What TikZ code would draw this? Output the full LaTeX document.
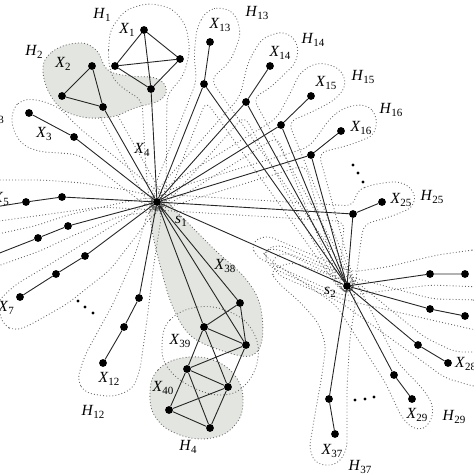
\documentclass[tikz,border=0pt]{standalone}
\usepackage{fontspec}
\setmainfont{Liberation Serif}
\definecolor{hullgray}{RGB}{226,229,224}
\newcommand\lab[2]{\textit{#1}\raisebox{-0.45ex}{\fontsize{11}{11}\selectfont #2}}
\begin{document}
\begin{tikzpicture}[x=1pt,y=-1pt,
  vtx/.style={circle,fill=black,inner sep=0pt,minimum size=7.8pt},
  sdot/.style={circle,fill=black,inner sep=0pt,minimum size=3.2pt},
  lnk/.style={line width=0.9pt,draw=black!85},
  hulls/.style={draw=black!60,line width=0.85pt,dash pattern=on 0.9pt off 2.2pt,rounded corners=8pt},
  blob/.style={draw=black!60,line width=0.85pt,dash pattern=on 0.9pt off 2.2pt},
  lbl/.style={inner sep=0pt,font=\fontsize{15.5}{17}\selectfont}]
\useasboundingbox (0,0) rectangle (474,474);
\clip (0,0) rectangle (474,474);

% ---------- shaded regions ----------
\draw[blob,fill=hullgray] plot[smooth cycle,tension=0.7] coordinates {(43,72) (52,52) (78,43) (96,50) (108,70) (130,76) (155,78) (166,88) (160,100) (135,108) (110,117) (78,116) (55,102)};
\draw[blob,fill=hullgray] plot[smooth cycle,tension=0.6] coordinates {(150,205) (152,230) (160,265) (172,305) (190,335) (220,350) (250,356) (262,340) (260,305) (245,278) (215,250) (180,215) (162,198)};
\draw[blob,fill=hullgray] plot[smooth cycle,tension=0.7] coordinates {(150,392) (158,370) (182,358) (213,360) (236,377) (243,402) (235,425) (212,438) (180,435) (156,418)};
\draw[blob] plot[smooth cycle,tension=0.7] coordinates {(162,345) (170,320) (198,307) (230,312) (252,330) (258,358) (245,385) (222,395) (192,387) (168,368)};

% ---------- dotted hulls ----------
% H1
\draw[hulls] (108,58)--(110,30)--(125,10)--(148,3)--(172,8)--(186,25)--(190,50)--(184,75)--(167,95)--(166,200)--(160,212)--(150,208)--(146,170)--(142,100)--(125,90)--(112,78)--cycle;
% H2 tail
\draw[hulls] (100,117)--(150,206)--(158,211)--(164,198)--(118,116);
% H3
\draw[hulls] (12,110)--(22,99)--(40,100)--(60,108)--(78,127)--(162,195)--(162,208)--(152,210)--(80,155)--(62,153)--(40,152)--(22,145)--(12,128)--cycle;
% H5, H6, H7
\draw[hulls] (-30,180)--(43,180)--(83,183)--(127,190)--(152,196)--(165,203)--(157,210)--(100,207)--(50,214)--(-30,225)--cycle;
\draw[hulls] (-30,240)--(35,226)--(68,215)--(120,203)--(152,197)--(165,204)--(156,211)--(120,216)--(72,236)--(40,251)--(-30,276)--cycle;
\draw[hulls] (152,200)--(120,221)--(83,244)--(52,263)--(15,285)--(-3,302)--(3,325)--(15,331)--(30,325)--(67,304)--(110,270)--(150,218)--(162,208)--cycle;
% H12
\draw[hulls] (148,212)--(135,255)--(113,304)--(85,355)--(77,380)--(85,393)--(113,397)--(133,389)--(140,370)--(147,320)--(153,270)--(162,212)--(156,206)--cycle;
% H13 .. H16, H25
\draw[hulls] (197,27)--(207,10)--(222,7)--(236,14)--(241,35)--(230,62)--(210.5,79.4)--(353.5,281.4)--(351.6,292.5)--(340.5,290.6)--(206,101)--(164.4,205)--(154,209.4)--(149.6,199)--(196.6,81)--(194,55)--cycle;
\draw[hulls] (248,62)--(262,38)--(284,31)--(298,42)--(297,62)--(270,88)--(253,98)--(354,282)--(350.8,293)--(340,289.8)--(244.4,115.8)--(163,207.3)--(151.7,208)--(151,196.7)--(240,96.7)--cycle;
\draw[hulls] (300,72)--(318,62)--(340,68)--(347,85)--(335,100)--(312,112)--(288.4,122)--(354.4,283)--(350,293.4)--(339.6,289)--(277.2,136.8)--(161.2,208.8)--(150.2,206.2)--(152.8,195.2)--(276.8,118.2)--(292,90)--cycle;
\draw[hulls] (330,118)--(345,107)--(366,104)--(377,115)--(375,135)--(350,145)--(318.7,152.9)--(354.7,283.9)--(349.1,293.7)--(339.3,288.1)--(305.4,165)--(159.3,209.7)--(149.3,204.3)--(154.7,194.3)--(308.7,147.3)--(322,130)--cycle;
\draw[hulls] (357,190)--(375,184)--(400,181)--(415,191)--(414,207)--(390,217)--(364,224)--(361,240)--(355,286.7)--(346.3,294)--(339,285.3)--(344.4,221.5)--(156.5,210)--(149,201.5)--(157.5,194)--(353.5,206)--cycle;
% H26 .. H29, H37
\draw[hulls] (480,249)--(437,255)--(387,267)--(352,272)--(266,235)--(251,243)--(256,257)--(343,296)--(431,285)--(480,287)--cycle;
\draw[hulls] (480,300)--(433,299)--(351,277)--(278,244)--(264,251)--(268,266)--(341,299)--(427,319)--(480,331)--cycle;
\draw[hulls] (480,352)--(455,352)--(424,337)--(353,279)--(285,252)--(271,259)--(276,274)--(340,302)--(411,353)--(445,378)--(480,388)--cycle;
\draw[hulls] (356,281)--(397,362)--(424,390)--(434,407)--(430,425)--(417,431)--(403,420)--(385,382)--(336,305)--(297,278)--(268,259)--(262,251)--(276,248)--(348,283)--cycle;
\draw[hulls] (292,262)--(350,282)--(356,300)--(350,337)--(347,387)--(347,450)--(337,465)--(317,465)--(309,450)--(314,420)--(322,375)--(326,345)--(318,322)--(300,302)--(276,281)--(270,270)--cycle;

% ---------- vertices ----------
\node[vtx] (s1) at (157,202) {};
\node[vtx] (s2) at (347,286) {};
\node[vtx] (a1) at (144,30) {};
\node[vtx] (a2) at (115,66) {};
\node[vtx] (a3) at (180,59) {};
\node[vtx] (a4) at (151,89) {};
\node[vtx] (b1) at (92,66) {};
\node[vtx] (b2) at (62,96) {};
\node[vtx] (b3) at (103,107) {};
\node[vtx] (c1) at (29,113) {};
\node[vtx] (c2) at (74,137) {};
\node[vtx] (d1) at (62,197) {};
\node[vtx] (d2) at (26,202) {};
\node[vtx] (d3) at (-12,208) {};
\node[vtx] (e1) at (68,226) {};
\node[vtx] (e2) at (38,238) {};
\node[vtx] (e3) at (-8,256) {};
\node[vtx] (f1) at (85,256) {};
\node[vtx] (f2) at (56,274) {};
\node[vtx] (f3) at (20,297) {};
\node[vtx] (g1) at (139,298) {};
\node[vtx] (g2) at (124,327) {};
\node[vtx] (g3) at (103,363) {};
\node[vtx] (k1) at (240,303) {};
\node[vtx] (k2) at (204,327) {};
\node[vtx] (k3) at (246,345) {};
\node[vtx] (k4) at (187,369) {};
\node[vtx] (k5) at (228,387) {};
\node[vtx] (k6) at (169,410) {};
\node[vtx] (k7) at (210,428) {};
\node[vtx] (p13) at (204,84) {};
\node[vtx] (q13) at (210,42) {};
\node[vtx] (p14) at (246,102) {};
\node[vtx] (q14) at (270,66) {};
\node[vtx] (p15) at (281,125) {};
\node[vtx] (q15) at (311,96) {};
\node[vtx] (p16) at (311,155) {};
\node[vtx] (q16) at (341,131) {};
\node[vtx] (p25) at (353,214) {};
\node[vtx] (q25) at (382,202) {};
\node[vtx] (r1) at (430,274) {};
\node[vtx] (t1) at (465,274) {};
\node[vtx] (r2) at (430,309) {};
\node[vtx] (t2) at (465,316) {};
\node[vtx] (r3) at (418,345) {};
\node[vtx] (t3) at (448,363) {};
\node[vtx] (r4) at (394,375) {};
\node[vtx] (t4) at (412,399) {};
\node[vtx] (r5) at (329,399) {};
\node[vtx] (t5) at (335,434) {};

% ---------- edges ----------
\draw[lnk] (a1)--(a2) (a1)--(a3) (a1)--(a4) (a2)--(a3) (a2)--(a4) (a3)--(a4) (a4)--(s1);
\draw[lnk] (b1)--(b2) (b1)--(b3) (b2)--(b3) (b3)--(s1);
\draw[lnk] (c1)--(c2)--(s1);
\draw[lnk] (s1)--(d1)--(d2)--(d3);
\draw[lnk] (s1)--(e1)--(e2)--(e3);
\draw[lnk] (s1)--(f1)--(f2)--(f3);
\draw[lnk] (s1)--(g1)--(g2)--(g3);
\draw[lnk] (s1)--(k1) (s1)--(k2) (s1)--(k3) (k1)--(k2) (k1)--(k3) (k2)--(k3)
  (k2)--(k4) (k2)--(k5) (k3)--(k4) (k3)--(k5) (k4)--(k5)
  (k4)--(k6) (k4)--(k7) (k5)--(k6) (k5)--(k7) (k6)--(k7);
\draw[lnk] (q13)--(p13) (s1)--(p13)--(s2);
\draw[lnk] (q14)--(p14) (s1)--(p14)--(s2);
\draw[lnk] (q15)--(p15) (s1)--(p15)--(s2);
\draw[lnk] (q16)--(p16) (s1)--(p16)--(s2);
\draw[lnk] (q25)--(p25) (s1)--(p25)--(s2);
\draw[lnk] (s1)--(s2);
\draw[lnk] (s2)--(r1)--(t1) (s2)--(r2)--(t2) (s2)--(r3)--(t3) (s2)--(r4)--(t4) (s2)--(r5)--(t5);

% ---------- ellipsis dots ----------
\node[sdot] (u1) at (353,165) {};
\node[sdot] (u2) at (358,173) {};
\node[sdot] (u3) at (363,182) {};
\node[sdot] (l1) at (78,301) {};
\node[sdot] (l2) at (85,307) {};
\node[sdot] (l3) at (93,313) {};
\node[sdot] (m1) at (355,400) {};
\node[sdot] (m2) at (365,399) {};
\node[sdot] (m3) at (374,397) {};

% ---------- labels ----------
\node[lbl] (LH1) at (102,15) {\lab{H}{1}};
\node[lbl] (LX1) at (127,30) {\lab{X}{1}};
\node[lbl] (LH2) at (34,52) {\lab{H}{2}};
\node[lbl] (LX2) at (63,64) {\lab{X}{2}};
\node[lbl,anchor=east] (LH3) at (4,117) {\lab{H}{3}};
\node[lbl] (LX3) at (44,134) {\lab{X}{3}};
\node[lbl] (LX4) at (142,150) {\lab{X}{4}};
\node[lbl,anchor=east] (LX5) at (9,199) {\lab{X}{5}};
\node[lbl,anchor=east] (LX7) at (14,308) {\lab{X}{7}};
\node[lbl] (Ls1) at (181,221) {\lab{s}{1}};
\node[lbl] (LX12) at (109,379) {\lab{X}{12}};
\node[lbl] (LH12) at (93,412) {\lab{H}{12}};
\node[lbl] (LX38) at (225,266) {\lab{X}{38}};
\node[lbl] (LX39) at (180,341) {\lab{X}{39}};
\node[lbl] (LX40) at (163,388) {\lab{X}{40}};
\node[lbl] (LH4) at (188,447) {\lab{H}{4}};
\node[lbl] (LX13) at (220,25) {\lab{X}{13}};
\node[lbl] (LH13) at (257,13) {\lab{H}{13}};
\node[lbl] (LX14) at (280,53) {\lab{X}{14}};
\node[lbl] (LH14) at (313,40) {\lab{H}{14}};
\node[lbl] (LX15) at (326,83) {\lab{X}{15}};
\node[lbl] (LH15) at (363,77) {\lab{H}{15}};
\node[lbl] (LX16) at (361,128) {\lab{X}{16}};
\node[lbl] (LH16) at (391,110) {\lab{H}{16}};
\node[lbl] (LX25) at (401,200) {\lab{X}{25}};
\node[lbl] (LH25) at (432,197) {\lab{H}{25}};
\node[lbl] (Ls2) at (330,292) {\lab{s}{2}};
\node[lbl,anchor=west] (LX28) at (455,364) {\lab{X}{28}};
\node[lbl] (LX29) at (417,415) {\lab{X}{29}};
\node[lbl] (LH29) at (454,417) {\lab{H}{29}};
\node[lbl] (LX37) at (332,451) {\lab{X}{37}};
\node[lbl] (LH37) at (360,467) {\lab{H}{37}};
\end{tikzpicture}
\end{document}
